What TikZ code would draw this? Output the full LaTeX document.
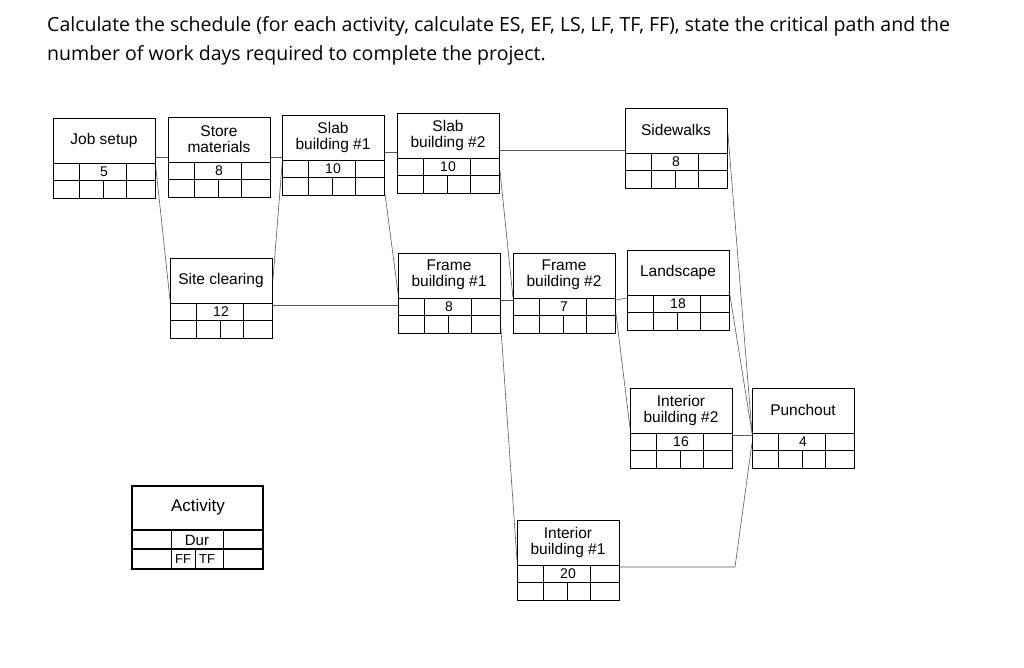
\documentclass[tikz,border=0pt]{standalone}
\usepackage{fontspec}
\setmainfont{Liberation Sans}
\newfontfamily\headfont{Open Sans}
\usetikzlibrary{calc}
\begin{document}
\begin{tikzpicture}[x=1pt,y=-1pt,
  box/.style={draw,line width=0.9pt,rectangle,anchor=north west,minimum width=102pt,minimum height=80pt,inner sep=0pt},
  ttl/.style={align=center,font=\fontsize{15.5}{16}\selectfont,inner sep=0pt},
  dur/.style={font=\fontsize{14}{14}\selectfont,inner sep=0pt},
  cell/.style={line width=0.7pt},
  con/.style={line width=0.6pt,gray!70!black}]
\useasboundingbox (0,0) rectangle (1024,668);
\node[anchor=north west,align=left,inner sep=0pt,font=\headfont\fontsize{19.5}{29}\selectfont] (hd) at (47,16)
{Calculate the schedule (for each activity, calculate ES, EF, LS, LF, TF, FF), state the critical path and the\\number of work days required to complete the project.};
\newcommand\actbox[5]{%
  \node[box] (#1) at (#2,#3) {};
  \node[ttl] (#1-t) at ($(#1.north west)+(51,22)$) {#4};
  \node[dur] (#1-d) at ($(#1.north west)+(51,54)$) {#5};
  \draw[cell] ($(#1.north west)+(0,45)$) -- ($(#1.north east)+(0,45)$);
  \draw[cell] ($(#1.north west)+(0,62)$) -- ($(#1.north east)+(0,62)$);
  \draw[cell] ($(#1.north west)+(26,45)$) -- ($(#1.north west)+(26,80)$);
  \draw[cell] ($(#1.north west)+(73,45)$) -- ($(#1.north west)+(73,80)$);
  \draw[cell] ($(#1.north west)+(50,62)$) -- ($(#1.north west)+(50,80)$);
}
\actbox{js}{53}{118}{Job setup}{5}
\actbox{sm}{168}{117}{Store\\materials}{8}
\actbox{sa}{282}{115}{Slab\\building \#1}{10}
\actbox{sb}{397}{113}{Slab\\building \#2}{10}
\actbox{sw}{625}{108}{Sidewalks}{8}
\actbox{sc}{170}{258}{Site clearing}{12}
\actbox{fa}{398}{253}{Frame\\building \#1}{8}
\actbox{fb}{513}{253}{Frame\\building \#2}{7}
\actbox{ls}{627}{250}{Landscape}{18}
\actbox{ib}{630}{388}{Interior\\building \#2}{16}
\actbox{po}{752}{388}{Punchout}{4}
\actbox{ia}{517}{520}{Interior\\building \#1}{20}
% legend
\node[draw,line width=1.5pt,anchor=north west,minimum width=131pt,minimum height=83pt,inner sep=0pt] (lg) at (131,485) {};
\node[ttl,font=\fontsize{17}{17}\selectfont] (lg-t) at ($(lg.north west)+(67,22)$) {Activity};
\node[dur,font=\fontsize{15}{15}\selectfont] (lg-d) at ($(lg.north west)+(66,55)$) {Dur};
\node[font=\fontsize{13}{13}\selectfont,inner sep=0pt] (lg-ff) at ($(lg.north west)+(52,74)$) {FF};
\node[font=\fontsize{13}{13}\selectfont,inner sep=0pt] (lg-tf) at ($(lg.north west)+(76,74)$) {TF};
\draw[line width=1.2pt] ($(lg.north west)+(0,45)$) -- ($(lg.north east)+(0,45)$);
\draw[line width=1.2pt] ($(lg.north west)+(0,64)$) -- ($(lg.north east)+(0,64)$);
\draw[line width=1pt] ($(lg.north west)+(40,45)$) -- ($(lg.north west)+(40,83)$);
\draw[line width=1pt] ($(lg.north west)+(92,45)$) -- ($(lg.north west)+(92,83)$);
\draw[line width=1pt] ($(lg.north west)+(64,64)$) -- ($(lg.north west)+(64,83)$);
% connectors
\draw[con] ($(js.north east)+(0,39)$) -- ($(sm.north west)+(0,40)$);
\draw[con] ($(js.north east)+(0,50)$) -- ($(sc.north west)+(0,42)$);
\draw[con] ($(sm.north east)+(0,40)$) -- ($(sa.north west)+(0,42)$);
\draw[con] ($(sc.north east)+(0,22)$) -- ($(sa.north west)+(0,50)$);
\draw[con] ($(sc.north east)+(0,47)$) -- ($(fa.north west)+(0,52)$);
\draw[con] ($(sa.north east)+(0,37)$) -- ($(sb.north west)+(0,39)$);
\draw[con] ($(sa.north east)+(0,78)$) -- ($(fa.north west)+(0,40)$);
\draw[con] ($(sb.north east)+(0,37)$) -- ($(sw.north west)+(0,42)$);
\draw[con] ($(sb.north east)+(0,57)$) -- ($(fb.north west)+(0,45)$);
\draw[con] ($(fa.north east)+(0,47)$) -- ($(fb.north west)+(0,47)$);
\draw[con] ($(fa.north east)+(0,75)$) -- ($(ia.north west)+(0,40)$);
\draw[con] ($(fb.north east)+(0,47)$) -- ($(ls.north west)+(0,48)$);
\draw[con] ($(fb.north east)+(0,60)$) -- ($(ib.north west)+(0,40)$);
\draw[con] ($(sw.north east)+(0,25)$) -- ($(po.north west)+(0,45)$);
\draw[con] ($(ls.north east)+(0,45)$) -- ($(po.north west)+(0,45)$);
\draw[con] ($(ib.north east)+(0,47)$) -- ($(po.north west)+(0,47)$);
\coordinate (bend) at (735,567);
\draw[con] ($(ia.north east)+(0,47)$) -- (bend) -- ($(po.north west)+(0,55)$);
\end{tikzpicture}
\end{document}
